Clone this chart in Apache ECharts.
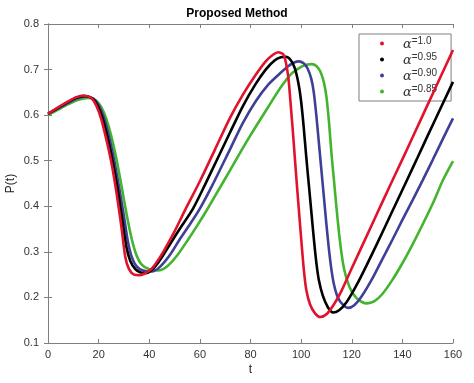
<!DOCTYPE html>
<html>
<head>
<meta charset="utf-8">
<script src="https://cdn.jsdelivr.net/npm/echarts@6/dist/echarts.min.js"></script>
<style>
html,body{margin:0;padding:0;background:#fff;}
#chart{width:474px;height:383px;}
</style>
</head>
<body>
<div id="chart"></div>
<script>
// ---- data ----
var xTicks = [0, 20, 40, 60, 80, 100, 120, 140, 160];
var yTicks = [0.1, 0.2, 0.3, 0.4, 0.5, 0.6, 0.7, 0.8];
var seriesNames = ['=1.0', '=0.95', '=0.90', '=0.85'];

var tRed = [0, 4, 8, 11, 14, 17, 19, 21, 23, 25, 27, 29, 30.5, 32, 34, 36, 38, 41, 45, 50, 54, 60, 66, 72, 77, 82, 86, 89, 91, 93, 94, 95, 96, 97, 98, 99, 100, 101, 102, 103.5, 105.5, 107.5, 110, 113, 116, 120, 125, 130, 135, 140, 145, 150, 155, 160];
var pRed = [0.603, 0.617, 0.630, 0.639, 0.643, 0.638, 0.622, 0.592, 0.548, 0.497, 0.432, 0.355, 0.290, 0.262, 0.250, 0.249, 0.252, 0.263, 0.295, 0.345, 0.390, 0.455, 0.525, 0.595, 0.645, 0.688, 0.718, 0.733, 0.738, 0.733, 0.715, 0.680, 0.615, 0.545, 0.470, 0.400, 0.330, 0.265, 0.218, 0.185, 0.165, 0.157, 0.163, 0.185, 0.215, 0.264, 0.324, 0.384, 0.444, 0.503, 0.563, 0.623, 0.683, 0.743];

var tBlack = [0, 4, 8, 11, 14.5, 17.5, 19.5, 21.5, 23.5, 25.5, 27.5, 29.5, 31, 32.5, 34.5, 36.5, 38.5, 41, 44, 48, 52, 57.3, 62, 67, 72, 77, 82, 86, 89.5, 92, 94, 96, 97.5, 99, 100, 101, 102, 103, 104, 105, 106, 107, 108.5, 110.5, 112.6, 115, 118, 122, 126, 130, 135, 141.8, 146, 150, 155, 160];
var pBlack = [0.603, 0.616, 0.629, 0.638, 0.642, 0.637, 0.622, 0.594, 0.552, 0.500, 0.438, 0.365, 0.310, 0.280, 0.262, 0.255, 0.253, 0.260, 0.280, 0.315, 0.350, 0.395, 0.447, 0.505, 0.563, 0.620, 0.668, 0.700, 0.720, 0.727, 0.728, 0.720, 0.703, 0.668, 0.630, 0.575, 0.510, 0.450, 0.390, 0.330, 0.277, 0.238, 0.205, 0.179, 0.167, 0.172, 0.190, 0.228, 0.272, 0.318, 0.377, 0.457, 0.507, 0.555, 0.614, 0.673];

var tBlue = [0, 4, 8, 11, 15, 18, 20, 22, 24, 26, 28, 30, 31.5, 33, 35, 37.5, 41, 44, 48, 52, 56, 60, 65, 71.9, 77, 82, 87, 91.7, 95, 97.5, 99, 101, 102.5, 104, 105, 106, 107, 108, 109, 110, 111, 112, 113, 114.5, 116.5, 118.5, 121, 124, 128, 132, 136, 140, 144, 148, 152, 156, 160];
var pBlue = [0.603, 0.615, 0.627, 0.636, 0.641, 0.636, 0.622, 0.596, 0.556, 0.505, 0.444, 0.378, 0.325, 0.290, 0.268, 0.259, 0.257, 0.266, 0.292, 0.327, 0.360, 0.395, 0.447, 0.525, 0.583, 0.630, 0.667, 0.692, 0.708, 0.716, 0.718, 0.714, 0.703, 0.680, 0.650, 0.600, 0.540, 0.480, 0.420, 0.360, 0.305, 0.260, 0.228, 0.200, 0.184, 0.177, 0.183, 0.203, 0.240, 0.283, 0.326, 0.370, 0.413, 0.457, 0.502, 0.548, 0.593];

var tGreen = [0, 4, 8, 12, 16, 19, 21, 23, 25, 27, 29, 31, 33, 35, 37, 40, 43.5, 47, 51, 55, 59, 63, 67, 71.9, 77, 82, 87, 91.7, 96, 100, 102.5, 104.3, 106, 107.5, 109, 110, 111, 112, 113, 114, 115, 116, 117, 118.5, 120, 122, 124, 126, 129, 132, 136, 140, 144, 148, 152, 156, 160];
var pGreen = [0.600, 0.612, 0.624, 0.634, 0.638, 0.632, 0.618, 0.592, 0.554, 0.505, 0.446, 0.384, 0.330, 0.292, 0.272, 0.262, 0.259, 0.268, 0.292, 0.324, 0.358, 0.394, 0.432, 0.479, 0.528, 0.574, 0.618, 0.659, 0.690, 0.706, 0.711, 0.712, 0.708, 0.697, 0.672, 0.640, 0.585, 0.515, 0.455, 0.395, 0.340, 0.295, 0.262, 0.232, 0.213, 0.198, 0.190, 0.187, 0.192, 0.207, 0.238, 0.275, 0.316, 0.360, 0.406, 0.457, 0.499];

var colors = ['#e0122c', '#000000', '#3f3f98', '#43b42e'];
// --------------------------------------

function zip(ts, ps) { return ts.map(function (t, i) { return [t, ps[i]]; }); }
var allT = [tRed, tBlack, tBlue, tGreen];
var allP = [pRed, pBlack, pBlue, pGreen];

var FONT = 'Liberation Sans, Arial, sans-serif';
var axisGray = '#7f7f7f';

var series = seriesNames.map(function (n, i) {
  return {
    name: n,
    type: 'line',
    data: zip(allT[i], allP[i]),
    showSymbol: false,
    symbol: 'circle',
    symbolSize: 4,
    smooth: 0.25,
    lineStyle: { color: colors[i], width: 2.6 },
    itemStyle: { color: colors[i] },
    xAxisIndex: 0,
    yAxisIndex: 0,
    z: 10 - i
  };
});

var baseAxisLine = { show: true, lineStyle: { color: axisGray, width: 1 } };
var baseTick = { show: true, inside: true, length: 4, lineStyle: { color: axisGray } };

var chart = echarts.init(document.getElementById('chart'), null, { renderer: 'canvas' });
chart.setOption({
  animation: false,
  backgroundColor: '#ffffff',
  textStyle: { fontFamily: FONT },
  title: {
    text: 'Proposed Method',
    left: 'center',
    top: 3,
    textStyle: { fontSize: 12, fontWeight: 'bold', color: '#000', fontFamily: FONT }
  },
  grid: { left: 48, right: 21, top: 24, bottom: 40, containLabel: false, outerBoundsMode: 'none' },
  legend: {
    orient: 'vertical',
    left: 359,
    top: 34,
    padding: [2, 14, 2, 21],
    itemGap: 1,
    itemWidth: 4,
    itemHeight: 4,
    icon: 'circle',
    backgroundColor: '#fff',
    borderColor: axisGray,
    borderWidth: 1,
    borderRadius: 0,
    data: seriesNames,
    formatter: function (name) { return '{a|\u03b1}{s|' + name + '}'; },
    textStyle: {
      color: '#333',
      rich: {
        a: { fontSize: 13, fontFamily: 'DejaVu Serif, serif', fontStyle: 'italic', color: '#333', verticalAlign: 'bottom', lineHeight: 15, padding: [0, 0, 0, 14] },
        s: { fontSize: 10, fontFamily: FONT, color: '#333', verticalAlign: 'top', lineHeight: 15 }
      }
    }
  },
  xAxis: [{
    type: 'value', min: 0, max: 160, interval: 20, position: 'bottom',
    name: 't', nameLocation: 'middle', nameGap: 21, nameMoveOverlap: false,
    nameTextStyle: { fontSize: 12, color: '#222', fontFamily: FONT },
    axisLine: baseAxisLine, axisTick: baseTick,
    axisLabel: { fontSize: 11, color: '#333', margin: 6, fontFamily: FONT,
      formatter: function (v) { return xTicks.indexOf(v) >= 0 ? String(v) : ''; } },
    splitLine: { show: false }
  }, {
    type: 'value', min: 0, max: 160, interval: 20, position: 'top',
    axisLine: baseAxisLine, axisTick: baseTick, axisLabel: { show: false }, splitLine: { show: false }
  }],
  yAxis: [{
    type: 'value', min: 0.1, max: 0.8, interval: 0.1, position: 'left',
    name: 'P(t)', nameLocation: 'middle', nameGap: 31, nameRotate: 90, nameMoveOverlap: false,
    nameTextStyle: { fontSize: 12, color: '#222', fontFamily: FONT },
    axisLine: baseAxisLine, axisTick: baseTick,
    axisLabel: { fontSize: 11, color: '#333', margin: 9, fontFamily: FONT,
      formatter: function (v) { var s = v.toFixed(1); return yTicks.map(function (x) { return x.toFixed(1); }).indexOf(s) >= 0 ? s : ''; } },
    splitLine: { show: false }
  }, {
    type: 'value', min: 0.1, max: 0.8, interval: 0.1, position: 'right',
    axisLine: baseAxisLine, axisTick: baseTick, axisLabel: { show: false }, splitLine: { show: false }
  }],
  series: series
});
</script>
</body>
</html>
